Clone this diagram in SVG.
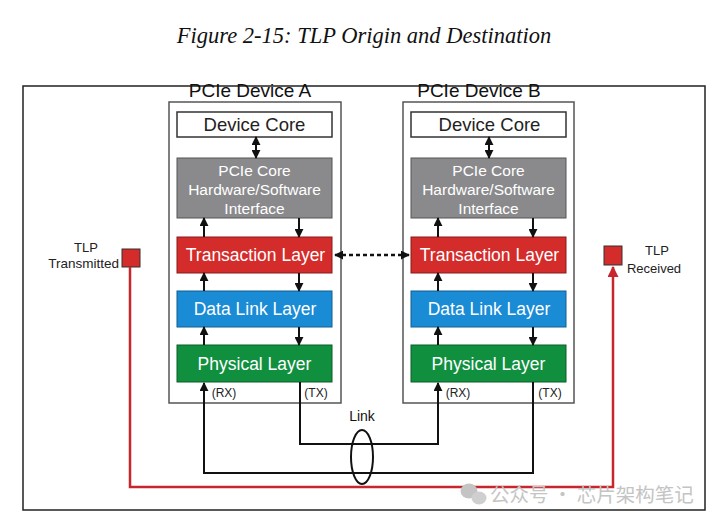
<svg xmlns="http://www.w3.org/2000/svg" width="720" height="523" viewBox="0 0 720 523">
<style>
.t{font-family:"Liberation Sans",Arial,sans-serif;text-anchor:middle}
.w{fill:#fff}
.ln{stroke:#111;stroke-width:2;fill:none}
.dev{fill:#fff;stroke:#555;stroke-width:1.5}
</style>
<defs>
<marker id="ah" viewBox="0 0 10 10" refX="9" refY="5" markerWidth="9" markerHeight="9" markerUnits="userSpaceOnUse" orient="auto-start-reverse"><path d="M0,0L10,5L0,10z" fill="#111"/></marker>
<marker id="ahr" viewBox="0 0 10 10" refX="9" refY="5" markerWidth="11" markerHeight="11" markerUnits="userSpaceOnUse" orient="auto"><path d="M0,0L10,5L0,10z" fill="#c8262d"/></marker>
</defs>
<rect width="720" height="523" fill="#fff"/>
<text x="364" y="43" font-family="'Liberation Serif','DejaVu Serif',serif" font-style="italic" font-size="22.5" text-anchor="middle" fill="#111">Figure 2-15: TLP Origin and Destination</text>
<rect x="23" y="86" width="682" height="424" fill="#fff" stroke="#222" stroke-width="1.5"/>

<g id="deviceA">
<text class="t" x="250" y="97" font-size="19" fill="#111">PCIe Device A</text>
<rect class="dev" x="169" y="102" width="172" height="301"/>
<g id="A-core"><rect x="177" y="112" width="155" height="25" fill="#fff" stroke="#333" stroke-width="1.5"/><text class="t" x="254.5" y="131" font-size="18.5" fill="#222">Device Core</text></g>
<g id="A-iface"><rect x="177" y="158" width="155" height="60" fill="#8a8a8c" stroke="#555" stroke-width="1"/><text class="t w" x="254.5" y="176" font-size="15.5">PCIe Core</text><text class="t w" x="254.5" y="195" font-size="15.5">Hardware/Software</text><text class="t w" x="254.5" y="214" font-size="15.5">Interface</text></g>
<g id="A-tl"><rect x="177" y="237" width="155" height="36" fill="#d42b2b" stroke="#8a1a1a" stroke-width="1"/><text class="t w" x="255.5" y="261" font-size="17.5">Transaction Layer</text></g>
<g id="A-dl"><rect x="177" y="291" width="155" height="36" fill="#1a8bd5" stroke="#135f90" stroke-width="1"/><text class="t w" x="255" y="315" font-size="17.5">Data Link Layer</text></g>
<g id="A-pl"><rect x="177" y="345" width="155" height="37" fill="#10903f" stroke="#0a5c28" stroke-width="1"/><text class="t w" x="254.5" y="370" font-size="17.5">Physical Layer</text></g>
<text class="t" x="224" y="397" font-size="12" fill="#222">(RX)</text>
<text class="t" x="316" y="397" font-size="12" fill="#222">(TX)</text>
</g>

<g id="deviceB">
<text class="t" x="479" y="97" font-size="19" fill="#111">PCIe Device B</text>
<rect class="dev" x="403" y="102" width="171" height="301"/>
<g id="B-core"><rect x="411" y="112" width="155" height="25" fill="#fff" stroke="#333" stroke-width="1.5"/><text class="t" x="489.5" y="131" font-size="18.5" fill="#222">Device Core</text></g>
<g id="B-iface"><rect x="411" y="158" width="155" height="60" fill="#8a8a8c" stroke="#555" stroke-width="1"/><text class="t w" x="488.5" y="176" font-size="15.5">PCIe Core</text><text class="t w" x="488.5" y="195" font-size="15.5">Hardware/Software</text><text class="t w" x="488.5" y="214" font-size="15.5">Interface</text></g>
<g id="B-tl"><rect x="411" y="237" width="155" height="36" fill="#d42b2b" stroke="#8a1a1a" stroke-width="1"/><text class="t w" x="489.5" y="261" font-size="17.5">Transaction Layer</text></g>
<g id="B-dl"><rect x="411" y="291" width="155" height="36" fill="#1a8bd5" stroke="#135f90" stroke-width="1"/><text class="t w" x="489" y="315" font-size="17.5">Data Link Layer</text></g>
<g id="B-pl"><rect x="411" y="345" width="155" height="37" fill="#10903f" stroke="#0a5c28" stroke-width="1"/><text class="t w" x="488.5" y="370" font-size="17.5">Physical Layer</text></g>
<text class="t" x="458" y="397" font-size="12" fill="#222">(RX)</text>
<text class="t" x="550" y="397" font-size="12" fill="#222">(TX)</text>
</g>

<g id="tlp-tx">
<rect x="122" y="249" width="18" height="18" fill="#d42b2b" stroke="#333" stroke-width="1"/>
<text class="t" x="86" y="252" font-size="13" fill="#222">TLP</text>
<text x="119" y="268" font-family="'Liberation Sans',Arial,sans-serif" font-size="13.5" text-anchor="end" fill="#222">Transmitted</text>
</g>
<g id="tlp-rx">
<rect x="604" y="246" width="18" height="19" fill="#d42b2b" stroke="#333" stroke-width="1"/>
<text class="t" x="657" y="255" font-size="13" fill="#222">TLP</text>
<text class="t" x="654" y="273" font-size="13" fill="#222">Received</text>
</g>

<g id="connectors">
<line class="ln" x1="256" y1="137" x2="256" y2="158" marker-start="url(#ah)" marker-end="url(#ah)"/>
<line class="ln" x1="489" y1="137" x2="489" y2="158" marker-start="url(#ah)" marker-end="url(#ah)"/>
<line class="ln" x1="204" y1="237" x2="204" y2="218" marker-end="url(#ah)"/>
<line class="ln" x1="299" y1="218" x2="299" y2="237" marker-end="url(#ah)"/>
<line class="ln" x1="204" y1="291" x2="204" y2="273" marker-end="url(#ah)"/>
<line class="ln" x1="299" y1="273" x2="299" y2="291" marker-end="url(#ah)"/>
<line class="ln" x1="204" y1="345" x2="204" y2="327" marker-end="url(#ah)"/>
<line class="ln" x1="299" y1="327" x2="299" y2="345" marker-end="url(#ah)"/>
<line class="ln" x1="438" y1="237" x2="438" y2="218" marker-end="url(#ah)"/>
<line class="ln" x1="533" y1="218" x2="533" y2="237" marker-end="url(#ah)"/>
<line class="ln" x1="438" y1="291" x2="438" y2="273" marker-end="url(#ah)"/>
<line class="ln" x1="533" y1="273" x2="533" y2="291" marker-end="url(#ah)"/>
<line class="ln" x1="438" y1="345" x2="438" y2="327" marker-end="url(#ah)"/>
<line class="ln" x1="533" y1="327" x2="533" y2="345" marker-end="url(#ah)"/>
<line x1="335" y1="255" x2="409" y2="255" stroke="#111" stroke-width="2.5" stroke-dasharray="4,3" marker-start="url(#ah)" marker-end="url(#ah)"/>
<polyline class="ln" points="533,382 533,473 204,473 204,383" marker-end="url(#ah)"/>
<polyline class="ln" points="300,382 300,444 438,444 438,383" stroke-width="2.5" marker-end="url(#ah)"/>
<ellipse cx="362" cy="457" rx="11" ry="27" fill="none" stroke="#111" stroke-width="2"/>
<text class="t" x="362" y="421" font-size="14" fill="#111">Link</text>
<polyline points="130,267 130,487 613,487 613,267" fill="none" stroke="#c8262d" stroke-width="2.5" marker-end="url(#ahr)"/>
</g>

<g id="watermark" fill="#c4c4c4">
<ellipse cx="469" cy="491" rx="8.5" ry="7.5"/>
<ellipse cx="479" cy="498" rx="7.5" ry="6.5" fill="#cfcfcf"/>
<text x="490" y="502" font-family="'Noto Sans CJK SC',sans-serif" font-size="19.5" fill="#c4c4c4">公众号 · 芯片架构笔记</text>
</g>
</svg>
